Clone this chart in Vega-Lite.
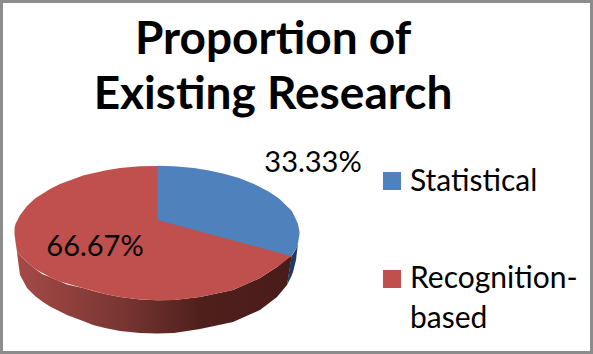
{"$schema":"https://vega.github.io/schema/vega-lite/v6.json","width":593,"height":354,"padding":0,"autosize":"none","background":"white","view":{"stroke":"#8c8c8c","strokeWidth":6},"title":{"text":["Proportion of","Existing Research"],"font":"Lato","fontWeight":"bold","fontSize":46,"lineHeight":55,"color":"black","anchor":"start","frame":"group","dx":273,"offset":-155,"align":"center","baseline":"alphabetic"},"encoding":{"x":{"field":"x","type":"quantitative","axis":null,"scale":{"domain":[0,593],"nice":false,"zero":false}},"y":{"field":"y","type":"quantitative","axis":null,"scale":{"domain":[354,0],"nice":false,"zero":false}}},"layer":[{"data":{"values":[{"x":17,"y":252,"y2":253},{"x":20,"y":255,"y2":275},{"x":27,"y":262,"y2":288},{"x":35,"y":269,"y2":296},{"x":43,"y":274.5,"y2":302},{"x":50,"y":277,"y2":306.5},{"x":67,"y":284.5,"y2":315},{"x":83,"y":288,"y2":321},{"x":93,"y":291,"y2":325},{"x":105,"y":294,"y2":328},{"x":120,"y":297,"y2":331},{"x":140,"y":299.5,"y2":333},{"x":157,"y":300.2,"y2":333.5},{"x":174,"y":300,"y2":333},{"x":200,"y":297,"y2":329},{"x":233,"y":290,"y2":322},{"x":260,"y":278,"y2":310},{"x":277,"y":267,"y2":297},{"x":287,"y":258,"y2":285},{"x":291.5,"y":256,"y2":258}]},"mark":{"type":"area","orient":"vertical","color":{"gradient":"linear","x1":0,"y1":0,"x2":1,"y2":0,"stops":[{"offset":0,"color":"#a54a47"},{"offset":0.375,"color":"#7a3633"},{"offset":0.67,"color":"#4f1f1c"},{"offset":1,"color":"#4a1c19"}]}},"encoding":{"y2":{"field":"y2"}}},{"data":{"values":[{"x":287,"y":285,"y2":285},{"x":291.5,"y":256,"y2":276},{"x":293,"y":254,"y2":272},{"x":296,"y":249,"y2":260},{"x":298,"y":243,"y2":243}]},"mark":{"type":"area","orient":"vertical","color":"#1f3b5f"},"encoding":{"y2":{"field":"y2"}}},{"data":{"values":[{"x":14.5,"y":228,"y2":234},{"x":15.5,"y":224,"y2":242},{"x":17,"y":221,"y2":252},{"x":20,"y":215.3,"y2":255},{"x":27,"y":206,"y2":262},{"x":35,"y":198.6,"y2":269},{"x":50,"y":189,"y2":277},{"x":60,"y":183.9,"y2":281.5},{"x":83,"y":175.5,"y2":288},{"x":105,"y":170.5,"y2":294},{"x":120,"y":168.1,"y2":297},{"x":140,"y":166.3,"y2":299.5},{"x":158.5,"y":166,"y2":300.2},{"x":158.6,"y":219,"y2":300.2},{"x":174,"y":223.4,"y2":300},{"x":200,"y":230.5,"y2":297},{"x":233,"y":239.5,"y2":290},{"x":260,"y":247,"y2":278},{"x":280,"y":252,"y2":265},{"x":291.5,"y":255.5,"y2":256}]},"mark":{"type":"area","orient":"vertical","color":"#c0504d"},"encoding":{"y2":{"field":"y2"}}},{"data":{"values":[{"x":157.6,"y":165.8,"y2":220},{"x":174,"y":166.3,"y2":224.4},{"x":194,"y":168.1,"y2":229.8},{"x":209,"y":170.5,"y2":233.9},{"x":224,"y":173.7,"y2":237.9},{"x":239,"y":178.1,"y2":242},{"x":254,"y":183.9,"y2":246},{"x":269,"y":191.7,"y2":250.1},{"x":279,"y":198.6,"y2":252.8},{"x":289,"y":208.2,"y2":255.5},{"x":291.5,"y":210.5,"y2":256},{"x":294,"y":215.3,"y2":252},{"x":297,"y":221.8,"y2":247},{"x":298,"y":224,"y2":243},{"x":299.5,"y":232,"y2":234}]},"mark":{"type":"area","orient":"vertical","color":"#4f81bd"},"encoding":{"y2":{"field":"y2"}}},{"data":{"values":[{"x":313,"y":172,"label":"33.33%"},{"x":95,"y":256,"label":"66.67%"}]},"mark":{"type":"text","font":"Lato","fontSize":29,"color":"black","align":"center","baseline":"alphabetic"},"encoding":{"text":{"field":"label"}}},{"data":{"values":[{"x":392,"y":181,"series":"Statistical"},{"x":392,"y":279,"series":"Recognition-based"}]},"mark":{"type":"point","shape":"square","filled":true,"size":324,"opacity":1},"encoding":{"color":{"field":"series","type":"nominal","legend":null,"scale":{"domain":["Statistical","Recognition-based"],"range":["#4f81bd","#c0504d"]}}}},{"data":{"values":[{"x":410,"y":191,"label":"Statistical"},{"x":410,"y":288,"label":"Recognition-\nbased"}]},"mark":{"type":"text","font":"Lato","fontSize":30,"lineBreak":"\n","lineHeight":40,"color":"black","align":"left","baseline":"alphabetic"},"encoding":{"text":{"field":"label"}}}]}
